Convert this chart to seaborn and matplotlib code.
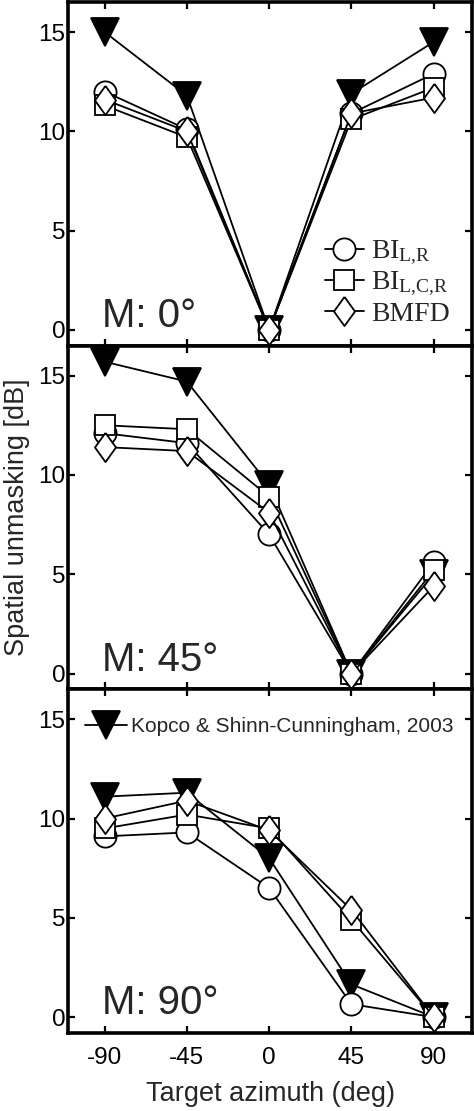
import numpy as np
import pandas as pd
import matplotlib
matplotlib.use('Agg')
import matplotlib.pyplot as plt
import seaborn as sns

# target azimuths (deg)
azimuth = [-90, -45, 0, 45, 90]
masker_labels = ['M: 0°', 'M: 45°', 'M: 90°']

# Kopco & Shinn-Cunningham, 2003 (measured)
kopco_m0 = [15.0, 11.8, 0.0, 11.9, 14.5]
kopco_m45 = [15.7, 14.7, 9.5, 0.0, 5.0]
kopco_m90 = [11.1, 11.3, 8.0, 1.65, 0.0]

# BI L,R model
bi_lr_m0 = [12.0, 10.1, 0.0, 10.9, 12.9]
bi_lr_m45 = [12.1, 11.6, 7.0, 0.0, 5.6]
bi_lr_m90 = [9.1, 9.3, 6.5, 0.65, 0.0]

# BI L,C,R model
bi_lcr_m0 = [11.3, 9.7, 0.0, 10.6, 12.2]
bi_lcr_m45 = [12.5, 12.3, 8.9, 0.0, 5.2]
bi_lcr_m90 = [9.5, 10.2, 9.5, 4.9, 0.0]

# BMFD model
bmfd_m0 = [11.6, 10.0, 0.0, 10.9, 11.7]
bmfd_m45 = [11.4, 11.2, 8.1, 0.0, 4.4]
bmfd_m90 = [10.0, 10.9, 9.4, 5.4, 0.0]

series = {
    'kopco': [kopco_m0, kopco_m45, kopco_m90],
    'bi_lr': [bi_lr_m0, bi_lr_m45, bi_lr_m90],
    'bi_lcr': [bi_lcr_m0, bi_lcr_m45, bi_lcr_m90],
    'bmfd': [bmfd_m0, bmfd_m45, bmfd_m90],
}
labels = {
    'kopco': 'Kopco & Shinn-Cunningham, 2003',
    'bi_lr': r'$\mathregular{BI_{L{,}R}}$',
    'bi_lcr': r'$\mathregular{BI_{L{,}C{,}R}}$',
    'bmfd': 'BMFD',
}

# tall MATLAB-like diamond
diamond = [(0, 1), (0.72, 0), (0, -1), (-0.72, 0), (0, 1)]
styles = {
    'kopco': dict(marker='v', markersize=20, markerfacecolor='black'),
    'bi_lr': dict(marker='o', markersize=16, markerfacecolor='white'),
    'bi_lcr': dict(marker='s', markersize=14, markerfacecolor='white'),
    'bmfd': dict(marker=diamond, markersize=21, markerfacecolor='white'),
}

sns.set_style('ticks')
plt.rcParams['font.family'] = ['Liberation Sans', 'DejaVu Sans']
plt.rcParams['axes.unicode_minus'] = False

fig = plt.figure(figsize=(4.74, 11.11), dpi=100)
axes = fig.subplots(3, 1, sharex=True)
fig.subplots_adjust(left=0.1435, right=0.996, top=0.998, bottom=0.0702, hspace=0)

for i, ax in enumerate(axes):
    handles = {}
    for key in ['kopco', 'bi_lr', 'bi_lcr', 'bmfd']:
        df = pd.DataFrame({'azimuth': azimuth, 'unmasking': series[key][i]})
        sns.lineplot(data=df, x='azimuth', y='unmasking', ax=ax, color='black',
                     linewidth=1.3, markeredgecolor='black', markeredgewidth=1.3,
                     label=labels[key], legend=False, **styles[key])
        handles[key] = ax.lines[-1]

    ax.set_xlim(-110, 111)
    ax.set_ylim(-0.8, 16.5)
    ax.set_yticks([0, 5, 10, 15])
    ax.set_xticks(azimuth)
    ax.set_xticklabels([str(a) for a in azimuth])
    ax.set_xlabel('')
    ax.set_ylabel('')
    ax.tick_params(which='both', direction='in', top=True, right=True,
                   length=5, width=1.6, labelsize=17.5, colors='black')
    ax.tick_params(axis='y', pad=2)
    ax.tick_params(axis='x', pad=10)
    for sp in ax.spines.values():
        sp.set_linewidth(2.6)
        sp.set_color('black')
    ax.text(-91.5, 0.15, masker_labels[i], fontsize=29, ha='left', va='baseline')

    if i == 0:
        ax.legend([handles['bi_lr'], handles['bi_lcr'], handles['bmfd']],
                  [labels['bi_lr'], labels['bi_lcr'], labels['bmfd']],
                  loc='center left', bbox_to_anchor=(0.636, 0.183), frameon=False,
                  prop={'family': 'Liberation Serif', 'size': 20},
                  handlelength=1.4, handletextpad=0.25, labelspacing=0.1,
                  borderaxespad=0, borderpad=0)
    if i == 2:
        ax.legend([handles['kopco']], [labels['kopco']], loc='center left',
                  bbox_to_anchor=(0.042, 0.892), frameon=False,
                  prop={'size': 15}, handlelength=2.0, handletextpad=0.2,
                  borderaxespad=0, borderpad=0)

axes[1].set_ylabel('Spatial unmasking [dB]', fontsize=19.5, labelpad=6)
axes[2].set_xlabel('Target azimuth (deg)', fontsize=19.5, labelpad=9)

fig.savefig('out.png', dpi=100)
